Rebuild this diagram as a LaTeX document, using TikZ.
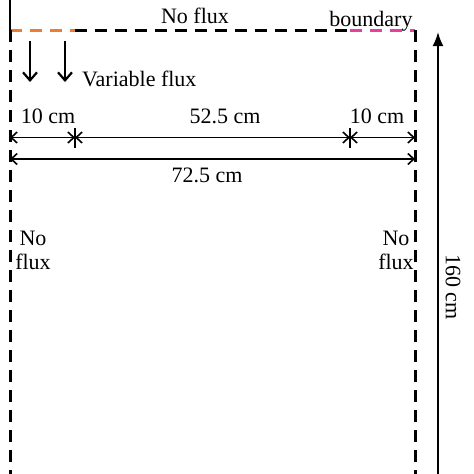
\documentclass[tikz,border=0pt]{standalone}
\usepackage{fontspec}
\setmainfont{Liberation Serif}
\usetikzlibrary{arrows.meta}
\definecolor{inflow}{RGB}{237,125,49}
\definecolor{seepage}{RGB}{232,62,160}
\tikzset{wall/.style={line width=3pt, dash pattern=on 12pt off 8pt},
  dimline/.style={line width=1.6pt, {Straight Barb[length=6pt,width=11pt]}-{Straight Barb[length=6pt,width=11pt]}},
  tickline/.style={line width=1.8pt},
  fluxarrow/.style={line width=2.2pt, -{Straight Barb[length=8pt,width=14pt]}},
  lbl/.style={font=\fontsize{22}{24}\selectfont, inner sep=0pt}}

\begin{document}
\begin{tikzpicture}[x=1pt,y=-1pt]
      \useasboundingbox (0,0) rectangle (474,474);
      \def\west{10}
      \def\east{415}
      \def\lid{30}
      \def\inlet{75}
      \def\outlet{350}
      \def\rowa{137.5}
      \def\rowb{159}
      % outline of the column
      \coordinate (tl) at (\west,\lid);
      \coordinate (tr) at (\east,\lid);
      \coordinate (bl) at (\west,480);
      \coordinate (br) at (\east,480);
      \coordinate (in) at (\inlet,\lid);
      \coordinate (out) at (\outlet,\lid);
      \draw [wall, inflow] (tl) -- (in);
      \draw [wall] (in) -- (out);
      \draw [wall, seepage] (out) -- (tr);
      \draw [wall] (tl) -- (bl);
      \draw [wall] (tr) -- (br);
      \coordinate (stub) at (\west,-5);
      \coordinate (stubend) at (\west,42);
      \draw [line width=2.2pt] (stub) -- (stubend);
      % inflow arrows
      \foreach \x in {30,65} {
        \coordinate (f\x) at (\x,41);
        \coordinate (g\x) at (\x,82);
        \draw [fluxarrow] (f\x) -- (g\x);
      }
      % dimensions
      \coordinate (a0) at (\west,\rowa);
      \coordinate (a1) at (\inlet,\rowa);
      \coordinate (a2) at (\outlet,\rowa);
      \coordinate (a3) at (\east,\rowa);
      \coordinate (b0) at (\west,\rowb);
      \coordinate (b1) at (\east,\rowb);
      \draw [dimline] (a0) -- (a1);
      \draw [dimline] (a1) -- (a2);
      \draw [dimline] (a2) -- (a3);
      \draw [dimline] (b0) -- (b1);
      \foreach \x in {\inlet,\outlet} {
        \coordinate (t\x) at (\x,128);
        \coordinate (u\x) at (\x,148);
        \draw [tickline] (t\x) -- (u\x);
      }
      % height
      \coordinate (h0) at (438,480);
      \coordinate (h1) at (438,32);
      \draw [line width=2pt, -{Latex[length=14pt,width=11pt]}] (h0) -- (h1);
      % labels
      \node [lbl, anchor=base] (topflux) at (195,23) {No flux};
      \node [lbl, anchor=base] (seep) at (371,26) {boundary};
      \node [lbl, anchor=base west] (varflux) at (82,86) {Variable flux};
      \node [lbl, anchor=base] (d1) at (48,123) {10 cm};
      \node [lbl, anchor=base] (d2) at (225,123) {52.5 cm};
      \node [lbl, anchor=base] (d3) at (377,123) {10 cm};
      \node [lbl, anchor=base] (d4) at (207,182) {72.5 cm};
      \node [lbl, align=center, anchor=north] (leftflux) at (33,231) {No\\flux};
      \node [lbl, align=center, anchor=north] (rightflux) at (396,231) {No\\flux};
      \node [lbl, rotate=-90] (height) at (453,287) {160 cm};
    \end{tikzpicture}
\end{document}
